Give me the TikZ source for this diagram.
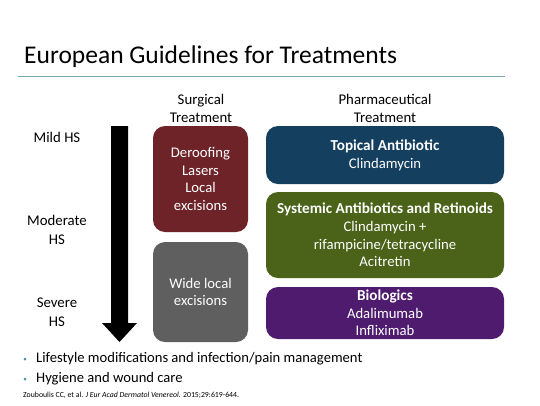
\documentclass[tikz,border=0pt]{standalone}
\usepackage{fontspec}
\setmainfont{Carlito}
\usepackage{xcolor}
\usetikzlibrary{positioning}
\definecolor{SurgRed}{RGB}{110,35,40}
\definecolor{SurgGray}{RGB}{95,95,95}
\definecolor{TopBlue}{RGB}{21,63,95}
\definecolor{SysGreen}{RGB}{74,99,25}
\definecolor{BioPurple}{RGB}{78,27,110}
\definecolor{RuleTeal}{RGB}{120,170,180}
\definecolor{BulletTeal}{RGB}{70,150,160}
\newcommand{\boxhead}[1]{{\fontsize{15.2}{17.7}\selectfont\bfseries #1}}
\tikzset{
  tbox/.style={rounded corners=12pt,draw=none,text=white,align=center,
               inner sep=0pt,font=\fontsize{14.7}{17.7}\selectfont},
  surg/.style={tbox,minimum width=95pt},
  pharm/.style={tbox,minimum width=238pt},
  head/.style={align=center,font=\fontsize{14.8}{18}\selectfont},
  sev/.style={align=center,font=\fontsize{14.8}{19}\selectfont},
  bul/.style={anchor=west,inner sep=0pt,font=\fontsize{14.6}{17}\selectfont},
}
\begin{document}
\begin{tikzpicture}[x=1pt,y=-1pt]
  \useasboundingbox[fill=white] (0,0) rectangle (540,405);

  % title
  \node[anchor=base west,inner sep=0pt,font=\fontsize{25.5}{30}\selectfont]
    (title) at (24,63) {European Guidelines for Treatments};
  \draw[RuleTeal,line width=1pt] (18,76) -- (505,76);

  % column heads
  \node[head] (hsurg) at (201,108) {Surgical\\Treatment};
  \node[head] (hpharm) at (385,108) {Pharmaceutical\\Treatment};

  % severity
  \node[sev] (mild) at (57,137) {Mild HS};
  \node[sev] (moder) at (57,229.5) {Moderate\\HS};
  \node[sev] (sever) at (57,312.5) {Severe\\HS};
  \fill[black] (111,126) -- (128,126) -- (128,323) -- (137,323)
    -- (119.5,342) -- (102,323) -- (111,323) -- cycle;

  % surgical
  \node[surg,fill=SurgRed,minimum height=106pt] (deroof) at (200.5,179)
    {Deroofing\\Lasers\\Local\\excisions};
  \node[surg,fill=SurgGray,minimum height=100pt] (wide) at (200.5,292)
    {Wide local\\excisions};

  % pharmaceutical
  \node[pharm,fill=TopBlue,minimum height=58pt] (topic) at (385,155)
    {\boxhead{Topical Antibiotic}\\Clindamycin};
  \node[pharm,fill=SysGreen,minimum height=86pt] (syst) at (385,235)
    {\boxhead{Systemic Antibiotics and Retinoids}\\Clindamycin +\\
     rifampicine/tetracycline\\Acitretin};
  \node[pharm,fill=BioPurple,minimum height=52pt] (biol) at (385,313)
    {\boxhead{Biologics}\\Adalimumab\\Infliximab};

  % bullets
  \node[bul] (b1) at (36,359) {Lifestyle modifications and infection/pain management};
  \node[bul] (b2) at (36,379) {Hygiene and wound care};
  \fill[BulletTeal] (25,359) circle (1.5pt);
  \fill[BulletTeal] (25,379) circle (1.5pt);
  \node[anchor=west,inner sep=0pt,font=\fontsize{7.8}{9}\selectfont] (cite) at (23,395)
    {Zouboulis CC, et al. \textit{J Eur Acad Dermatol Venereol.} 2015;29:619-644.};
\end{tikzpicture}
\end{document}
